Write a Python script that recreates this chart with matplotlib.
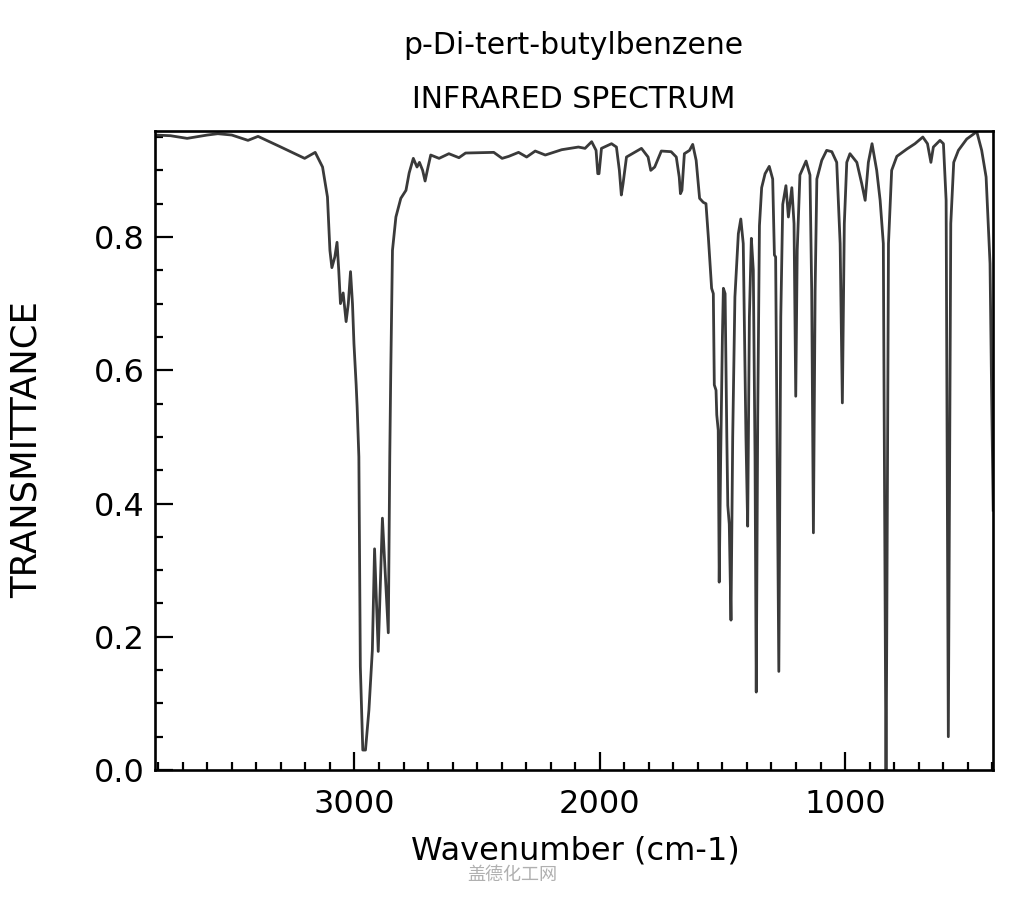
import matplotlib
matplotlib.use("Agg")
import matplotlib.pyplot as plt
from matplotlib.ticker import MultipleLocator, FormatStrFormatter

# IR spectrum of p-di-tert-butylbenzene
wavenumber = [
    3815, 3750, 3682, 3600, 3557, 3500, 3434, 3393, 3300, 3203, 3160, 3130,
    3110, 3100, 3092, 3080, 3071, 3064, 3057, 3046, 3034, 3025, 3016, 3008,
    3002, 2993, 2989, 2982, 2976, 2966, 2955, 2941, 2927, 2918, 2903, 2886,
    2862, 2856, 2852, 2845, 2831, 2811, 2790, 2777, 2760, 2745, 2735, 2722,
    2712, 2700, 2689, 2655, 2615, 2574, 2547, 2432, 2398, 2371, 2331, 2298,
    2263, 2222, 2155, 2087, 2060, 2033, 2015, 2008, 2003, 1993, 1952, 1932,
    1920, 1912, 1905, 1891, 1830, 1803, 1792, 1776, 1749, 1709, 1688, 1676,
    1671, 1665, 1655, 1634, 1621, 1607, 1593, 1578, 1567, 1557, 1544, 1537,
    1533, 1526, 1523, 1517, 1513, 1507, 1500, 1496, 1489, 1482, 1478, 1472,
    1465, 1458, 1449, 1435, 1425, 1415, 1404, 1397, 1390, 1382, 1374, 1367,
    1362, 1356, 1349, 1340, 1326, 1309, 1295, 1288, 1283, 1270, 1262, 1254,
    1241, 1231, 1217, 1208, 1201, 1195, 1184, 1159, 1143, 1136, 1129, 1122,
    1115, 1095, 1075, 1054, 1034, 1020, 1011, 1003, 993, 980, 952, 932,
    918, 905, 890, 871, 857, 844, 836, 833, 830, 823, 810, 789,
    748, 715, 683, 664, 650, 640, 613, 599, 588, 579, 569, 557,
    538, 504, 463, 443, 425, 409, 402, 396,
]
transmittance = [
    0.953, 0.952, 0.948, 0.953, 0.955, 0.953, 0.945, 0.951, 0.935, 0.918, 0.927, 0.905,
    0.860, 0.780, 0.754, 0.770, 0.792, 0.750, 0.700, 0.716, 0.673, 0.700, 0.748, 0.700,
    0.640, 0.578, 0.545, 0.470, 0.155, 0.030, 0.030, 0.090, 0.180, 0.332, 0.178, 0.378,
    0.206, 0.470, 0.596, 0.780, 0.830, 0.858, 0.870, 0.896, 0.918, 0.905, 0.912, 0.900,
    0.884, 0.905, 0.923, 0.918, 0.925, 0.919, 0.926, 0.927, 0.918, 0.921, 0.927, 0.920,
    0.929, 0.923, 0.931, 0.935, 0.933, 0.943, 0.930, 0.895, 0.895, 0.933, 0.940, 0.935,
    0.900, 0.863, 0.880, 0.920, 0.933, 0.920, 0.900, 0.905, 0.929, 0.928, 0.920, 0.890,
    0.865, 0.870, 0.925, 0.930, 0.939, 0.915, 0.858, 0.852, 0.850, 0.798, 0.723, 0.715,
    0.578, 0.570, 0.533, 0.510, 0.282, 0.470, 0.650, 0.723, 0.715, 0.500, 0.397, 0.369,
    0.225, 0.500, 0.710, 0.805, 0.827, 0.790, 0.500, 0.366, 0.680, 0.798, 0.750, 0.470,
    0.117, 0.530, 0.817, 0.874, 0.895, 0.906, 0.887, 0.773, 0.770, 0.148, 0.680, 0.849,
    0.877, 0.830, 0.874, 0.820, 0.561, 0.780, 0.893, 0.914, 0.893, 0.720, 0.356, 0.720,
    0.887, 0.915, 0.930, 0.928, 0.912, 0.790, 0.551, 0.820, 0.912, 0.925, 0.912, 0.880,
    0.855, 0.912, 0.940, 0.900, 0.855, 0.790, 0.200, -0.020, 0.200, 0.790, 0.900, 0.921,
    0.932, 0.940, 0.950, 0.940, 0.912, 0.935, 0.945, 0.940, 0.855, 0.050, 0.820, 0.912,
    0.930, 0.947, 0.958, 0.930, 0.890, 0.760, 0.550, 0.390,
]

title_line1 = "p-Di-tert-butylbenzene"
title_line2 = "INFRARED SPECTRUM"
x_label = "Wavenumber (cm-1)"
y_label = "TRANSMITTANCE"
watermark = "盖德化工网"

plt.rcParams['font.family'] = ['DejaVu Sans', 'Noto Sans CJK SC']

fig = plt.figure(figsize=(10.24, 9), dpi=100)
ax = fig.add_axes([0.1509, 0.1444, 0.8188, 0.71])

ax.plot(wavenumber, transmittance, color="#3a3a3a", linewidth=2.0,
        solid_joinstyle="round")

ax.set_xlim(3815, 397)
ax.set_ylim(0, 0.959)

ax.xaxis.set_major_locator(MultipleLocator(1000))
ax.xaxis.set_minor_locator(MultipleLocator(100))
ax.yaxis.set_major_locator(MultipleLocator(0.2))
ax.yaxis.set_minor_locator(MultipleLocator(0.05))
ax.yaxis.set_major_formatter(FormatStrFormatter("%.1f"))

ax.tick_params(which="both", direction="in", top=False, right=False,
               width=1.6, color="black")
ax.tick_params(which="major", length=13, labelsize=23)
ax.tick_params(axis="x", which="major", pad=14)
ax.tick_params(axis="y", which="major", pad=7)
ax.tick_params(which="minor", length=6)

for side in ax.spines.values():
    side.set_linewidth(1.9)

fig.text(0.56, 1 - 45 / 900, title_line1, ha="center", va="center", fontsize=21.5)
fig.text(0.56, 1 - 99 / 900, title_line2, ha="center", va="center", fontsize=21.5)
fig.text(575 / 1024, 1 - 851 / 900, x_label, ha="center", va="center", fontsize=23)
fig.text(27 / 1024, 1 - 450 / 900, y_label, ha="center", va="center",
         rotation=90, fontsize=25.5)
fig.text(512 / 1024, 1 - 875 / 900, watermark, ha="center", va="center",
         fontsize=13, color="#b0b0b0", family=['Noto Sans CJK SC', 'DejaVu Sans'])

fig.savefig("out.png", dpi=100)
